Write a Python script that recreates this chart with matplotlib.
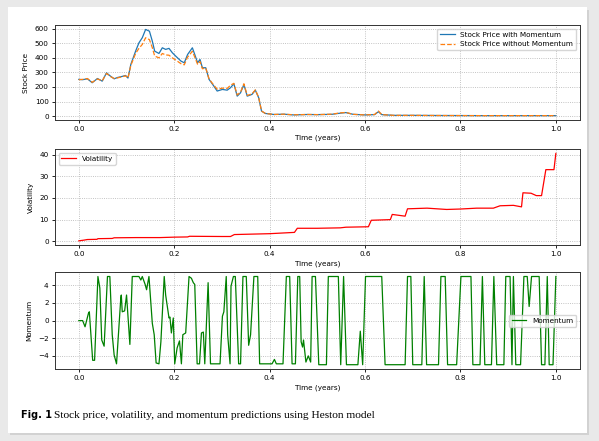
import numpy as np
import matplotlib
matplotlib.use("Agg")
import matplotlib.pyplot as plt
from matplotlib.patches import Rectangle

# stock price: time, with momentum, without momentum
price_t = [0.000, 0.008, 0.018, 0.028, 0.039, 0.049, 0.058, 0.066, 0.074, 0.081,
           0.088, 0.098, 0.103, 0.109, 0.119, 0.126, 0.133, 0.140, 0.148, 0.154,
           0.159, 0.168, 0.175, 0.182, 0.189, 0.196, 0.203, 0.214, 0.221, 0.228,
           0.238, 0.243, 0.249, 0.254, 0.259, 0.266, 0.273, 0.283, 0.290, 0.301,
           0.311, 0.318, 0.325, 0.332, 0.339, 0.346, 0.353, 0.363, 0.370, 0.377,
           0.383, 0.391, 0.409, 0.430, 0.450, 0.480, 0.500, 0.530, 0.548, 0.560,
           0.575, 0.600, 0.620, 0.628, 0.635, 0.660, 0.700, 0.750, 0.850, 1.000]
price_mom = [252, 250, 256, 229, 258, 240, 297, 275, 256, 265,
             270, 279, 261, 355, 446, 503, 538, 595, 583, 515,
             446, 430, 469, 458, 465, 435, 412, 378, 366, 423,
             469, 423, 366, 389, 332, 332, 252, 206, 172, 183,
             178, 195, 222, 137, 160, 217, 137, 149, 178, 126,
             34, 18, 11, 13, 8, 11, 10, 12, 20, 24,
             12, 8, 10, 30, 10, 5, 5, 4, 3, 3]
price_nomom = [250, 252, 258, 232, 255, 242, 293, 272, 258, 262,
               268, 276, 262, 348, 430, 465, 492, 538, 525, 470,
               412, 400, 430, 420, 418, 400, 385, 360, 352, 405,
               445, 405, 355, 375, 325, 330, 255, 212, 185, 192,
               190, 212, 225, 145, 165, 222, 142, 152, 180, 128,
               35, 18, 11, 13, 9, 11, 10, 13, 22, 25,
               12, 8, 11, 35, 10, 5, 5, 4, 3, 3]

# volatility
vol_t = [0.000, 0.010, 0.018, 0.038, 0.040, 0.070, 0.074, 0.120, 0.170, 0.200,
         0.228, 0.232, 0.300, 0.318, 0.326, 0.400, 0.452, 0.458, 0.500, 0.548,
         0.560, 0.607, 0.613, 0.653, 0.657, 0.684, 0.689, 0.730, 0.771, 0.800,
         0.834, 0.869, 0.883, 0.911, 0.928, 0.931, 0.948, 0.959, 0.970, 0.979,
         0.996, 1.000]
vol_v = [0.2, 0.5, 0.8, 0.9, 1.2, 1.3, 1.6, 1.7, 1.7, 1.9,
         2.0, 2.3, 2.2, 2.2, 3.1, 3.5, 4.1, 6.0, 6.0, 6.2,
         6.5, 6.7, 9.7, 10.0, 12.4, 11.6, 15.0, 15.3, 14.7, 14.9,
         15.3, 15.3, 16.4, 16.6, 15.9, 22.4, 22.2, 21.1, 21.1, 33.1,
         33.1, 40.6]

# momentum
mom_t = [0.000, 0.008, 0.013, 0.020, 0.022, 0.029, 0.033, 0.040, 0.044, 0.048,
         0.053, 0.060, 0.065, 0.070, 0.074, 0.079, 0.088, 0.089, 0.091, 0.096,
         0.100, 0.107, 0.112, 0.126, 0.130, 0.133, 0.139, 0.142, 0.147, 0.154,
         0.158, 0.162, 0.168, 0.172, 0.179, 0.182, 0.189, 0.191, 0.194, 0.198,
         0.201, 0.206, 0.211, 0.215, 0.218, 0.224, 0.231, 0.236, 0.240, 0.243,
         0.248, 0.253, 0.257, 0.261, 0.264, 0.271, 0.276, 0.296, 0.301, 0.304,
         0.309, 0.312, 0.317, 0.319, 0.324, 0.328, 0.335, 0.339, 0.344, 0.351,
         0.356, 0.360, 0.367, 0.375, 0.379, 0.405, 0.410, 0.414, 0.428, 0.435,
         0.442, 0.447, 0.454, 0.459, 0.463, 0.466, 0.469, 0.471, 0.476, 0.481,
         0.486, 0.489, 0.496, 0.503, 0.519, 0.523, 0.544, 0.549, 0.555, 0.561,
         0.585, 0.590, 0.595, 0.601, 0.635, 0.642, 0.684, 0.689, 0.696, 0.700,
         0.719, 0.724, 0.729, 0.754, 0.759, 0.768, 0.773, 0.792, 0.801, 0.822,
         0.826, 0.841, 0.846, 0.851, 0.865, 0.870, 0.876, 0.891, 0.895, 0.904,
         0.908, 0.911, 0.916, 0.926, 0.933, 0.940, 0.944, 0.949, 0.965, 0.970,
         0.977, 0.982, 0.986, 0.994, 1.000]
mom_v = [0.0, 0.0, -0.7, 0.8, 1.0, -4.5, -4.5, 5.0, 3.7, -2.2,
         -2.9, 5.0, 5.0, -1.6, -3.9, -4.9, 2.6, 2.9, 1.0, 1.1,
         2.9, -2.7, 5.0, 5.0, 4.6, 5.0, 4.1, 3.5, 5.0, -0.3,
         -1.6, -4.8, -4.9, -2.4, 5.0, 2.9, 0.3, 0.4, -1.4, 0.3,
         -4.9, -3.1, -2.3, -4.9, -1.6, -1.4, 5.0, 4.8, 4.3, 4.1,
         -4.9, -4.9, -1.4, -1.3, -4.9, 4.3, -4.9, -4.9, 0.5, 1.0,
         5.0, -1.6, -4.9, 3.9, 5.0, 5.0, -4.9, -4.9, 5.0, 5.0,
         -2.8, -1.6, 5.0, 5.0, -4.9, -4.9, -4.4, -4.9, -4.9, 5.0,
         5.0, -4.9, -4.9, 5.0, 5.0, -2.4, -3.0, -2.2, -4.7, -4.0,
         -4.7, 5.0, 5.0, -5.0, -5.0, 5.0, 5.0, -5.0, 5.0, -5.0,
         -5.0, -1.2, -5.0, 5.0, 5.0, -5.0, -5.0, 5.0, 5.0, -5.0,
         -5.0, 5.0, -5.0, -5.0, 5.0, 5.0, -5.0, -5.0, 5.0, 5.0,
         -5.0, -5.0, 5.0, -5.0, -5.0, 5.0, -5.0, -5.0, 5.0, 5.0,
         -5.0, 5.0, -5.0, -5.0, 5.0, 5.0, 1.6, 5.0, 5.0, -5.0,
         -5.0, 5.0, -5.0, -5.0, 5.0]

plt.rcParams['font.family'] = 'DejaVu Sans'
FS = 5.2

fig = plt.figure(figsize=(5.99, 4.41), dpi=100, facecolor='#e9e9e9')
# white card with a soft shadow
fig.patches.append(Rectangle((0.016, 0.014), 0.967, 0.964, transform=fig.transFigure,
                             facecolor='#d2d2d2', edgecolor='none', zorder=-2))
fig.patches.append(Rectangle((0.013, 0.019), 0.967, 0.964, transform=fig.transFigure,
                             facecolor='white', edgecolor='none', zorder=-1))

left, width = 0.0918, 0.876
ax1 = fig.add_axes([left, 0.728, width, 0.215])
ax2 = fig.add_axes([left, 0.444, width, 0.218])
ax3 = fig.add_axes([left, 0.163, width, 0.220])

ax1.plot(price_t, price_mom, color='#1f77b4', lw=0.9, label='Stock Price with Momentum')
ax1.plot(price_t, price_nomom, color='#ff7f0e', lw=0.9, ls='--', label='Stock Price without Momentum')
ax1.set_ylabel('Stock Price', fontsize=FS)
ax1.set_yticks([0, 100, 200, 300, 400, 500, 600])
ax1.legend(loc='upper right', fontsize=FS)

ax2.plot(vol_t, vol_v, color='red', lw=0.9, label='Volatility')
ax2.set_ylabel('Volatility', fontsize=FS)
ax2.set_yticks([0, 10, 20, 30, 40])
ax2.legend(loc='upper left', fontsize=FS)

ax3.plot(mom_t, mom_v, color='green', lw=0.9, label='Momentum')
ax3.set_ylabel('Momentum', fontsize=FS)
ax3.set_yticks([-4, -2, 0, 2, 4])
ax3.set_ylim(-5.5, 5.5)
ax3.legend(loc='center right', fontsize=FS)

for ax in (ax1, ax2, ax3):
    ax.set_xlabel('Time (years)', fontsize=FS, labelpad=2)
    ax.set_xticks([0.0, 0.2, 0.4, 0.6, 0.8, 1.0])
    ax.tick_params(labelsize=FS, length=2.5, width=0.6, pad=2)
    ax.grid(True, color='#b0b0b0', lw=0.6, ls=':')
    for s in ax.spines.values():
        s.set_linewidth(0.7)
        s.set_color('#333333')

fig.text(0.035, 0.058, 'Fig. 1', fontsize=7, fontweight='bold',
         family='DejaVu Sans', va='center')
fig.text(0.090, 0.058, 'Stock price, volatility, and momentum predictions using Heston model',
         fontsize=8.2, family='Liberation Serif', va='center')

fig.savefig('out.png', dpi=100, facecolor=fig.get_facecolor())
